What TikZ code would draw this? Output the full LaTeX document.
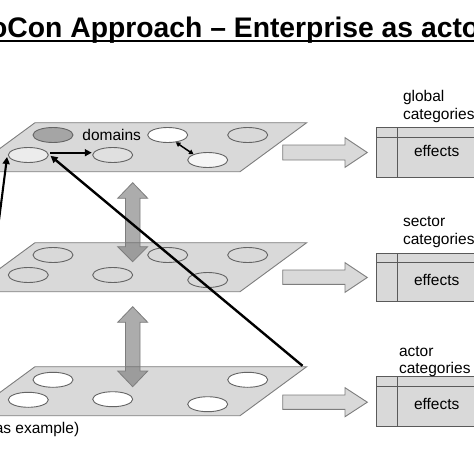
\documentclass[tikz,border=0pt]{standalone}
\usepackage{fontspec}
\setmainfont{Liberation Sans}
\usetikzlibrary{arrows.meta,shapes.geometric}
\definecolor{planefill}{RGB}{217,217,217}
\definecolor{planeline}{RGB}{125,125,125}
\definecolor{ellline}{RGB}{100,100,100}
\definecolor{darkell}{RGB}{165,165,165}
\definecolor{lightell}{RGB}{236,236,236}
\definecolor{midell}{RGB}{224,224,224}
\definecolor{whiteell}{RGB}{246,246,246}
\definecolor{vafill}{RGB}{112,112,112}
\definecolor{tblline}{RGB}{90,90,90}
\begin{document}
\begin{tikzpicture}[x=1pt,y=-1pt,
  lbl/.style={font=\fontsize{15.5}{18}\selectfont, inner sep=0pt},
  plane/.style={fill=planefill, draw=planeline, line width=0.9pt},
  ell/.style={ellipse, draw=ellline, line width=0.9pt, minimum width=40pt, minimum height=15pt, inner sep=0pt},
  vblock/.style={fill=vafill, fill opacity=0.58, draw=planeline, line width=0.8pt},
  hblock/.style={fill=planefill, draw=planeline, line width=0.9pt},
  tbl/.style={fill=planefill, draw=tblline, line width=0.8pt},
  tblrule/.style={draw=tblline, line width=0.8pt},
  blk/.style={draw=black, line width=2.1pt, -{Triangle[length=7pt,width=7pt]}},
  thinblk/.style={draw=black, line width=1.5pt, {Triangle[length=4.5pt,width=5pt]}-{Triangle[length=4.5pt,width=5pt]}}]
\useasboundingbox (0,0) rectangle (474,474);
\clip (0,0) rectangle (474,474);

% title
\node[anchor=base west, inner sep=0pt, font=\fontsize{28.3}{30}\selectfont\bfseries] (title) at (-10,37.5) {oCon Approach – Enterprise as acto};
\draw[line width=2.2pt] (-5,40.8) -- (480,40.8);

% planes
\draw[plane] (35,122.7) -- (306.7,122.7) -- (240,171.7) -- (-31.7,171.7) -- cycle;
\draw[plane] (35,242.7) -- (306.7,242.7) -- (240,291.7) -- (-31.7,291.7) -- cycle;
\draw[plane] (35,366.7) -- (306.7,366.7) -- (240,415.7) -- (-31.7,415.7) -- cycle;

% top plane ellipses
\node[ell, fill=darkell] (e1) at (53,135) {};
\node[ell, fill=white] (e2) at (167.7,135) {};
\node[ell, fill=planefill] (e3) at (247.7,135) {};
\node[ell, fill=lightell] (e4) at (28.3,155) {};
\node[ell, fill=midell] (e5) at (112.7,155) {};
\node[ell, fill=whiteell] (e6) at (207.7,160) {};
\node[lbl, anchor=base west] (dom) at (82.2,140.5) {domains};

% middle plane ellipses
\node[ell, fill=planefill] (m1) at (53,255) {};
\node[ell, fill=planefill] (m2) at (167.7,255) {};
\node[ell, fill=planefill] (m3) at (247.7,255) {};
\node[ell, fill=planefill] (m4) at (28.3,275) {};
\node[ell, fill=planefill] (m5) at (112.7,275) {};
\node[ell, fill=planefill] (m6) at (207.7,280) {};

% bottom plane ellipses
\node[ell, fill=white] (b1) at (53,379.8) {};
\node[ell, fill=white] (b3) at (247.7,379.8) {};
\node[ell, fill=white] (b4) at (28.3,399.8) {};
\node[ell, fill=white] (b5) at (112.7,399.2) {};
\node[ell, fill=white] (b6) at (207.7,404.2) {};

% vertical double block arrows
\draw[vblock] (132.7,182.7) -- (147.7,198.3) -- (140,198.3) -- (140,246.7) -- (147.7,246.7) -- (132.7,261.7) -- (117.7,246.7) -- (125.5,246.7) -- (125.5,198.3) -- (117.7,198.3) -- cycle;
\draw[vblock] (132.7,306.7) -- (147.7,322.3) -- (140,322.3) -- (140,371) -- (147.7,371) -- (132.7,386.7) -- (117.7,371) -- (125.5,371) -- (125.5,322.3) -- (117.7,322.3) -- cycle;

% horizontal block arrows
\draw[hblock] (282.7,145) -- (345,145) -- (345,137.7) -- (367.3,152.5) -- (345,167.3) -- (345,160) -- (282.7,160) -- cycle;
\draw[hblock] (282.7,270) -- (345,270) -- (345,262.7) -- (367.3,277.5) -- (345,292.3) -- (345,284.3) -- (282.7,284.3) -- cycle;
\draw[hblock] (282.7,395) -- (345,395) -- (345,387.7) -- (367.3,402.2) -- (345,416.7) -- (345,409.3) -- (282.7,409.3) -- cycle;

% tables
\draw[tbl] (376.7,127.7) rectangle (480,177.3);
\draw[tblrule] (376.7,137.3) -- (480,137.3) (397.7,127.7) -- (397.7,177.3);
\draw[tbl] (376.7,253.3) rectangle (480,301.7);
\draw[tblrule] (376.7,262.3) -- (480,262.3) (397.7,253.3) -- (397.7,301.7);
\draw[tbl] (376.7,376.7) rectangle (480,426.7);
\draw[tblrule] (376.7,386.7) -- (480,386.7) (397.7,376.7) -- (397.7,426.7);

\node[lbl, anchor=base west] (eff1) at (413.8,156.7) {effects};
\node[lbl, anchor=base west] (eff2) at (413.8,285) {effects};
\node[lbl, anchor=base west] (eff3) at (413.8,409.3) {effects};

\node[lbl, anchor=base west] (g1) at (402.8,101.5) {global};
\node[lbl, anchor=base west] (g2) at (402.8,119.3) {categories};
\node[lbl, anchor=base west] (s1) at (402.8,226.5) {sector};
\node[lbl, anchor=base west] (s2) at (402.8,244.3) {categories};
\node[lbl, anchor=base west] (a1) at (398.8,356) {actor};
\node[lbl, anchor=base west] (a2) at (398.8,373.7) {categories};

\node[lbl, anchor=base west] (ex) at (-5.4,433.5) {as example)};

% connectors
\coordinate (p3tr) at (302.5,365.8);
\coordinate (lft) at (-1,220);
\draw[blk] ([yshift=2.3pt,xshift=1.7pt]e4.east) -- ([yshift=2.3pt,xshift=-0.5pt]e5.west);
\draw[blk, line width=2.4pt] (p3tr) -- ([xshift=1.8pt,yshift=-0.8pt]e4.east);
\draw[blk] (lft) -- ([yshift=-2pt,xshift=-0.8pt]e4.west);
\draw[thinblk] (e2.-42) -- (e6.158);
\end{tikzpicture}
\end{document}
